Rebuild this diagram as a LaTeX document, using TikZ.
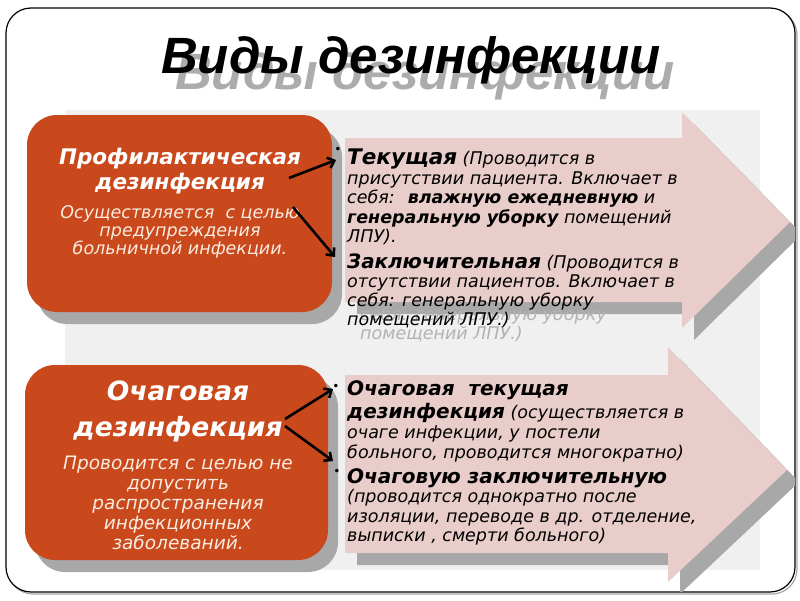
\documentclass[tikz,border=0pt]{standalone}
\usepackage{fontspec}
\setmainfont{DejaVu Sans}
\newfontfamily\titlefont{Liberation Sans}
\usetikzlibrary{arrows.meta,positioning}

\definecolor{boxorange}{RGB}{201,72,28}
\definecolor{arrowpink}{RGB}{232,205,202}
\definecolor{shadowgray}{RGB}{168,168,168}
\definecolor{panelgray}{RGB}{240,240,240}
\definecolor{softwhite}{RGB}{250,236,225}

\tikzset{
  boxtext/.style={text=white, align=center, inner sep=0pt},
  itemtext/.style={align=left, inner sep=0pt, anchor=north west},
  pointer/.style={line width=2.6pt, -{Straight Barb[length=6pt,width=11pt]}},
  dotnode/.style={inner sep=0pt, font=\fontsize{12}{12}\selectfont},
}

\begin{document}
\begin{tikzpicture}[x=1pt,y=-1pt]
\useasboundingbox (0,0) rectangle (800,600);
% frame
\draw[gray!70, line width=1.2pt, rounded corners=25pt] (8,10) rectangle (797,594);
\draw[line width=1.2pt, fill=white, rounded corners=25pt] (6,8) rectangle (795,592);
\fill[panelgray] (65,110) rectangle (760,570);

% title
\node[font=\titlefont\bfseries\itshape\fontsize{51}{54}\selectfont, text=gray!65] (titleghost) at (425,76) {Виды дезинфекции};
\node[font=\titlefont\bfseries\itshape\fontsize{51}{54}\selectfont] (title) at (411,60) {Виды дезинфекции};

% big arrows
\begin{scope}
\clip[rounded corners=25pt] (6,8) rectangle (795,592);
\fill[shadowgray, shift={(12,12)}] (345,138) -- (682,138) -- (682,112) -- (790,222) -- (682,328) -- (682,302) -- (345,302) -- cycle;
\fill[arrowpink] (345,138) -- (682,138) -- (682,112) -- (790,222) -- (682,328) -- (682,302) -- (345,302) -- cycle;
\fill[shadowgray, shift={(12,12)}] (345,375) -- (668,375) -- (668,347) -- (787,470) -- (668,582) -- (668,553) -- (345,553) -- cycle;
\fill[arrowpink] (345,375) -- (668,375) -- (668,347) -- (787,470) -- (668,582) -- (668,553) -- (345,553) -- cycle;
\end{scope}

% orange boxes
\fill[shadowgray, rounded corners=30pt] (37,127) rectangle (342,324);
\fill[boxorange, rounded corners=30pt] (27,115) rectangle (332,312);
\fill[shadowgray, rounded corners=30pt] (35,377) rectangle (338,572);
\fill[boxorange, rounded corners=30pt] (25,365) rectangle (328,560);

% top box
\node[boxtext, font=\bfseries\itshape\fontsize{21.5}{25}\selectfont] (prof) at (180,171) {Профилактическая\\дезинфекция};
\node[boxtext, text=softwhite, font=\itshape\fontsize{17.5}{18}\selectfont, below=11pt of prof] (profnote) {Осуществляется \ с целью\\предупреждения\\больничной инфекции.};

% top list
\node[itemtext, font=\itshape\fontsize{17.5}{19.5}\selectfont] (cur) at (347,149) {{\bfseries\fontsize{21.5}{19.5}\selectfont Текущая} (Проводится в\\присутствии пациента. Включает в\\себя: \ {\bfseries влажную ежедневную} и\\{\bfseries генеральную уборку} помещений\\ЛПУ).};
\node[itemtext, text=gray!60, font=\itshape\fontsize{17.5}{19}\selectfont] (finghost) at (360,307) {себя: генеральную уборку\\помещений ЛПУ.)};
\node[itemtext, font=\itshape\fontsize{17.5}{19}\selectfont] (fin) at (347,254) {{\bfseries\fontsize{19.8}{19}\selectfont Заключительная} (Проводится в\\отсутствии пациентов. Включает в\\себя: генеральную уборку\\помещений ЛПУ.)};

\node[dotnode] (d1) at (338,150) {•};
\coordinate (p1) at (289,178);
\coordinate (t1) at (336,160);
\coordinate (p2) at (293,207);
\coordinate (t2) at (335,257);
\draw[pointer] (p1) -- (t1);
\draw[pointer] (p2) -- (t2);

% bottom box
\node[boxtext, font=\bfseries\itshape\fontsize{26.5}{36}\selectfont] (foch) at (178,411) {Очаговая\\дезинфекция};
\node[boxtext, text=softwhite, font=\itshape\fontsize{18.5}{20}\selectfont, below=14pt of foch] (fochnote) {Проводится с целью не\\допустить\\распространения\\инфекционных\\заболеваний.};

% bottom list
\node[itemtext, font=\itshape\fontsize{17.5}{20}\selectfont] (foc) at (347,380) {{\bfseries\fontsize{20}{23}\selectfont Очаговая \ текущая}\\[3pt]{\bfseries\fontsize{20}{20}\selectfont дезинфекция} (осуществляется в\\очаге инфекции, у постели\\больного, проводится многократно)};
\node[itemtext, font=\itshape\fontsize{17.5}{19.5}\selectfont] (focfin) at (347,468) {{\bfseries\fontsize{20}{19.5}\selectfont Очаговую заключительную}\\(проводится однократно после\\изоляции, переводе в др. отделение,\\выписки , смерти больного)};

\node[dotnode] (d3) at (336,387) {•};
\node[dotnode] (d4) at (337,472) {•};
\coordinate (p3) at (285,419);
\coordinate (t3) at (333,389);
\coordinate (p4) at (285,426);
\coordinate (t4) at (333,461);
\draw[pointer] (p3) -- (t3);
\draw[pointer] (p4) -- (t4);
\end{tikzpicture}
\end{document}
